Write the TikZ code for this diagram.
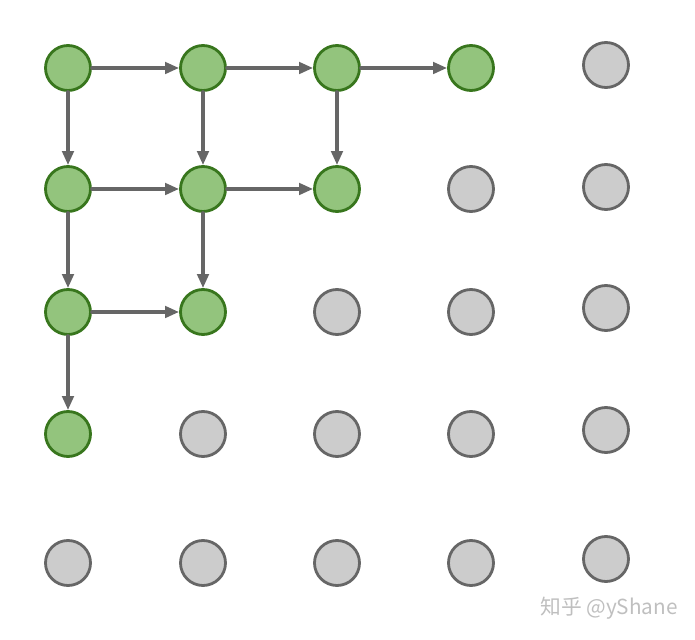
\documentclass[tikz,border=0pt]{standalone}
\usepackage{fontspec}
\newfontfamily\cjk{Noto Sans CJK SC}
\usetikzlibrary{arrows.meta}
\definecolor{verde}{HTML}{93C47D}
\definecolor{verdeborde}{HTML}{38761D}
\definecolor{gris}{HTML}{CCCCCC}
\definecolor{grisborde}{HTML}{666666}
\tikzstyle{every path}=[line cap=round, line join=round]
\tikzstyle{activo}=[circle, draw=verdeborde, fill=verde, line width=1.6pt, minimum size=0.9cm, inner sep=0pt]
\tikzstyle{inactivo}=[circle, draw=grisborde, fill=gris, line width=1.6pt, minimum size=0.9cm, inner sep=0pt]
\tikzstyle{flecha}=[draw=grisborde, line width=1.9pt, -{Triangle[length=8pt,width=6.5pt]}]

\begin{document}
\begin{tikzpicture}
        \useasboundingbox (0,0) rectangle (13.9,-12.8);
        %nodos
        \foreach \c/\x in {0/1.36,1/4.06,2/6.74,3/9.42} {
            \foreach \r/\y in {0/-1.36,1/-3.78,2/-6.24,3/-8.68,4/-11.26} {
                \pgfmathtruncatemacro{\s}{\c+\r}
                \ifnum\s<4
                    \node[activo] (n-\c-\r) at (\x,\y) {};
                \else
                    \node[inactivo] (n-\c-\r) at (\x,\y) {};
                \fi
            }
        }
        %ultima columna
        \foreach \r/\y in {0/-1.30,1/-3.74,2/-6.16,3/-8.60,4/-11.18}
            \node[inactivo] (n-4-\r) at (12.12,\y) {};
        %flechas horizontales
        \foreach \a/\b/\r in {0/1/0,1/2/0,2/3/0,0/1/1,1/2/1,0/1/2}
            \draw[flecha] (n-\a-\r) -- (n-\b-\r);
        %flechas verticales
        \foreach \c/\a/\b in {0/0/1,1/0/1,2/0/1,0/1/2,1/1/2,0/2/3}
            \draw[flecha] (n-\c-\a) -- (n-\c-\b);
        %marca de agua
        \node[text=black!25, font=\cjk\fontsize{11.8}{14}\selectfont] (marca) at (12.18,-12.16) {知乎 @yShane};
\end{tikzpicture}
\end{document}
